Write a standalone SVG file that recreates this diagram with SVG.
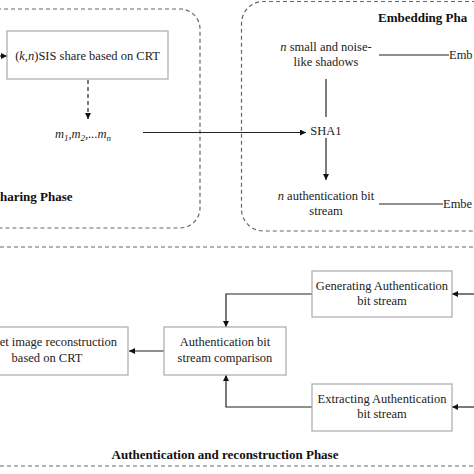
<svg xmlns="http://www.w3.org/2000/svg" width="474" height="474" viewBox="0 0 474 474">
<defs>
<marker id="ah" viewBox="0 0 10 10" refX="10" refY="5" markerWidth="6" markerHeight="6" markerUnits="userSpaceOnUse" orient="auto"><path d="M0,0 L10,5 L0,10 z" fill="#111"/></marker>
<style>
.t{font-family:"Liberation Serif","Times New Roman",serif;font-size:12.5px;fill:#222;text-anchor:middle}
.ts{text-anchor:start}
.te{text-anchor:end}
.b{font-family:"Liberation Serif","Times New Roman",serif;font-size:13px;font-weight:bold;fill:#111}
.box{fill:#fff;stroke:#aaa;stroke-width:1.2}
.dash{fill:none;stroke:#666;stroke-width:1.2;stroke-dasharray:4 3}
.ln{fill:none;stroke:#222;stroke-width:1.2}
</style>
</defs>
<rect width="474" height="474" fill="#fff"/>
<g id="phases">
<path class="dash" d="M-10 9 H180 A20 20 0 0 1 200 29 V208 A20 20 0 0 1 180 228 H-10"/>
<path class="dash" d="M490 1.5 H263 A22 22 0 0 0 241.5 23.5 V209 A22 22 0 0 0 263 231 H490"/>
<line class="dash" x1="0" y1="247" x2="474" y2="247"/>
<line class="dash" x1="0" y1="466" x2="474" y2="466"/>
<text class="b" x="0" y="201">haring Phase</text>
<text class="b" x="378" y="22">Embedding Pha</text>
<text class="b" x="225" y="459" text-anchor="middle">Authentication and reconstruction Phase</text>
</g>
<g id="connectors">
<line class="ln" x1="-5" y1="56" x2="7" y2="56" marker-end="url(#ah)"/>
<line class="ln" x1="88" y1="80" x2="88" y2="119" stroke-dasharray="4 3" marker-end="url(#ah)"/>
<line class="ln" x1="143" y1="132.5" x2="306" y2="132.5" marker-end="url(#ah)"/>
<line class="ln" x1="326" y1="79" x2="326" y2="117"/>
<line class="ln" x1="326" y1="138" x2="326" y2="180" marker-end="url(#ah)"/>
<line class="ln" x1="379" y1="55" x2="449" y2="55"/>
<line class="ln" x1="379" y1="204" x2="443" y2="204"/>
<line class="ln" x1="164" y1="351" x2="129" y2="351" marker-end="url(#ah)"/>
<polyline class="ln" points="312,294 226,294 226,327" marker-end="url(#ah)"/>
<polyline class="ln" points="312,407 226,407 226,375" marker-end="url(#ah)"/>
<line class="ln" x1="480" y1="294" x2="452" y2="294" marker-end="url(#ah)"/>
<line class="ln" x1="480" y1="407" x2="452" y2="407" marker-end="url(#ah)"/>
</g>
<g id="sis">
<rect class="box" x="7" y="31" width="161" height="48"/>
<text class="t" x="87.5" y="60">(<tspan font-style="italic">k</tspan>,<tspan font-style="italic">n</tspan>)SIS share based on CRT</text>
</g>
<g id="shares">
<text class="t" x="83" y="138" font-style="italic">m<tspan font-size="9" dy="3">1</tspan><tspan dy="-3">,m</tspan><tspan font-size="9" dy="3">2</tspan><tspan dy="-3">,...m</tspan><tspan font-size="9" dy="3">n</tspan></text>
</g>
<g id="shadows">
<text class="t" x="326" y="51"><tspan font-style="italic">n</tspan> small and noise-</text>
<text class="t" x="326" y="66">like shadows</text>
</g>
<g id="sha1">
<text class="t" x="326" y="135">SHA1</text>
</g>
<g id="authbits">
<text class="t" x="326" y="200"><tspan font-style="italic">n</tspan> authentication bit</text>
<text class="t" x="326" y="215">stream</text>
</g>
<g id="embed1"><text class="t ts" x="449" y="59">Emb</text></g>
<g id="embed2"><text class="t ts" x="443" y="208">Embe</text></g>
<g id="reconstruct">
<rect class="box" x="-5" y="327" width="133" height="48"/>
<text class="t te" x="117" y="346">et image reconstruction</text>
<text class="t" x="47" y="362">based on CRT</text>
</g>
<g id="compare">
<rect class="box" x="164" y="327" width="122" height="48"/>
<text class="t" x="225" y="346">Authentication bit</text>
<text class="t" x="225" y="362">stream comparison</text>
</g>
<g id="generate">
<rect class="box" x="312" y="271" width="140" height="46"/>
<text class="t" x="382" y="290">Generating Authentication</text>
<text class="t" x="382" y="305">bit stream</text>
</g>
<g id="extract">
<rect class="box" x="312" y="384" width="140" height="47"/>
<text class="t" x="382" y="403">Extracting Authentication</text>
<text class="t" x="382" y="418">bit stream</text>
</g>
</svg>
